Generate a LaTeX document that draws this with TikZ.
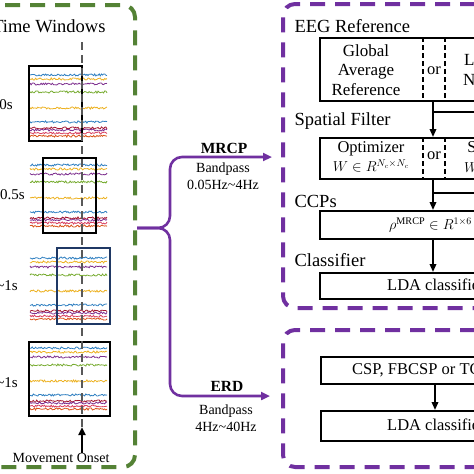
\documentclass[tikz,border=0pt]{standalone}
\usepackage{fontspec}
\setmainfont{Liberation Serif}
\usetikzlibrary{arrows.meta,calc}
\definecolor{FrameGreen}{HTML}{548235}
\definecolor{FramePurple}{HTML}{7030A0}
\definecolor{OnsetGray}{HTML}{595959}
\definecolor{WinBlue}{HTML}{1F3864}
\definecolor{TrBlue}{HTML}{2F7FC1}
\definecolor{TrYellow}{HTML}{EDB120}
\definecolor{TrPurple}{HTML}{7E2F8E}
\definecolor{TrGreen}{HTML}{77AC30}
\definecolor{TrRed}{HTML}{A2142F}
\definecolor{TrPink}{HTML}{D94060}
\definecolor{TrOrange}{HTML}{D95319}

% ten EEG channels starting at height #1
\newcommand\eegpanel[1]{%
  \foreach \dy/\col in {0/TrBlue,4/TrYellow,9/TrPurple,17/TrGreen,33/TrYellow,
      47/TrBlue,53/TrRed,55/TrPurple,58/TrPink,61/TrOrange}
    \draw[\col,line width=0.8pt] plot[domain=30:107,samples=70] (\x,{#1+\dy+1.1*rand});
}

\begin{document}
\begin{tikzpicture}[x=1pt,y=-1pt,>=Stealth,
    big/.style={font=\fontsize{18.5}{21}\selectfont},
    txt/.style={font=\fontsize{16.5}{19.5}\selectfont,align=center,inner sep=0pt},
    small/.style={font=\fontsize{14}{17}\selectfont,align=center,inner sep=0pt},
    stage/.style={draw,line width=1.8pt,minimum width=200pt,anchor=north west,inner sep=0pt},
    orline/.style={line width=1.8pt,dash pattern=on 5pt off 3pt},
    winbox/.style={line width=2pt},
    flow/.style={FramePurple,line width=2.6pt,rounded corners=12pt,-{Triangle[length=9pt,width=8pt]}},
    down/.style={line width=1.8pt,-{Triangle[length=8pt,width=6.5pt]}},
    frame/.style={line width=4pt,dash pattern=on 15pt off 10pt,rounded corners=12pt}]
  \useasboundingbox (0,0) rectangle (474,474);
  \clip (0,0) rectangle (474,474);
  \fill[white] (0,0) rectangle (474,474);

  % time windows
  \draw[frame,FrameGreen] (-20,5) -- (135,5) -- (135,467) -- (-20,467);
  \node[big,anchor=east] (twin) at (109,26) {Time Windows};
  \pgfmathsetseed{11}
  \eegpanel{75}
  \eegpanel{165}
  \eegpanel{258}
  \eegpanel{348}
  \draw[winbox] (29,66) rectangle (82,141);
  \draw[winbox] (43,158) rectangle (96,233);
  \draw[winbox,WinBlue] (57,248) rectangle (110,324);
  \draw[winbox] (29,342) rectangle (110,416);
  \node[small,font=\fontsize{15}{17}\selectfont,anchor=east] (w1) at (13,105) {0s};
  \node[small,font=\fontsize{15}{17}\selectfont,anchor=east] (w2) at (25,195) {-0.5s};
  \node[small,font=\fontsize{15}{17}\selectfont,anchor=east] (w3) at (18,286) {\textasciitilde1s};
  \node[small,font=\fontsize{15}{17}\selectfont,anchor=east] (w4) at (18,383) {\textasciitilde1s};
  \coordinate (onsetTop) at (82,42);
  \node[small] (onset) at (61,458) {Movement Onset};
  \draw[OnsetGray,line width=2.6pt,dash pattern=on 8pt off 5pt] (onsetTop) -- (onset.north -| onsetTop);
  \draw[line width=2.4pt,-{Triangle[length=8pt,width=7pt]}] (onset.north -| onsetTop) -- ++(0,-26);

  % two bands
  \coordinate (fork) at (137,228);
  \coordinate (mrcpEnd) at (272,157);
  \coordinate (erdEnd) at (270,396);
  \draw[flow] (fork) -| (170,157) -- (mrcpEnd);
  \draw[flow] (fork) -| (170,396) -- (erdEnd);
  \node[small,font=\fontsize{15.5}{17}\bfseries] (mrcp) at (224,148) {MRCP};
  \node[small] (mrcpBand) at (223,176) {Bandpass\\0.05Hz\textasciitilde4Hz};
  \node[small,font=\fontsize{15.5}{17}\bfseries] (erd) at (227,386) {ERD};
  \node[small] (erdBand) at (226,418) {Bandpass\\4Hz\textasciitilde40Hz};

  % MRCP pipeline
  \draw[frame,FramePurple] (500,4) -- (283,4) -- (283,308) -- (500,308);
  \node[big,anchor=west] (refLbl) at (291,26) {EEG Reference};
  \node[stage,minimum height=63pt] (ref) at (319,37) {};
  \draw[orline] (423,37) -- (423,100);
  \draw[orline] (445,37) -- (445,100);
  \node[txt,font=\fontsize{17}{19.5}\selectfont] (gar) at (366,70) {Global\\Average\\Reference};
  \node[txt] (or1) at (434,71) {or};
  \node[txt,font=\fontsize{17}{19.5}\selectfont,anchor=west] (lap) at (463,70) {L\\N};
  \coordinate (mid) at (433,0);

  \node[big,anchor=west] (sfLbl) at (291,121) {Spatial Filter};
  \node[stage,minimum height=41pt] (sf) at (319,137) {};
  \draw[orline] (423,137) -- (423,178);
  \draw[orline] (445,137) -- (445,178);
  \node[txt] (opt) at (371,157) {Optimizer\\{\fontsize{14.5}{15}\selectfont$W\in R^{N_c\times N_c}$}};
  \node[txt] (or2) at (434,156) {or};
  \node[txt,anchor=west] (sel) at (464,157) {S\\{\fontsize{14.5}{15}\selectfont$W$}};

  \node[big,anchor=west] (ccpLbl) at (291,201) {CCPs};
  \node[stage,minimum height=28pt] (ccp) at (319,210) {};
  \node[txt,font=\fontsize{14.5}{16}\selectfont,anchor=west] (rho) at (389,225) {$\rho^{\mathrm{MRCP}}\in R^{1\times 6}$};

  \node[big,anchor=west] (clsLbl) at (291,260) {Classifier};
  \node[stage,minimum height=26pt] (cls) at (319,272) {};
  \node[txt,anchor=west] (lda) at (387,285) {LDA classifier};

  \draw[down] (ref.south -| mid) -- (sf.north -| mid);
  \draw[line width=1.8pt] (433,112) -- (480,112);
  \draw[down] (sf.south -| mid) -- (ccp.north -| mid);
  \draw[line width=1.8pt] (433,193) -- (480,193);
  \draw[down] (ccp.south -| mid) -- (cls.north -| mid);

  % ERD pipeline
  \draw[frame,FramePurple] (500,330) -- (283,330) -- (283,467) -- (500,467);
  \node[stage,minimum height=27pt] (csp) at (320,356) {};
  \node[txt,anchor=west] (cspTxt) at (352,370) {CSP, FBCSP or TC};
  \node[stage,minimum height=30pt] (cls2) at (320,410) {};
  \node[txt,anchor=west] (lda2) at (387,425) {LDA classifier};
  \coordinate (mid2) at (435,0);
  \draw[down] (csp.south -| mid2) -- (cls2.north -| mid2);
\end{tikzpicture}
\end{document}
